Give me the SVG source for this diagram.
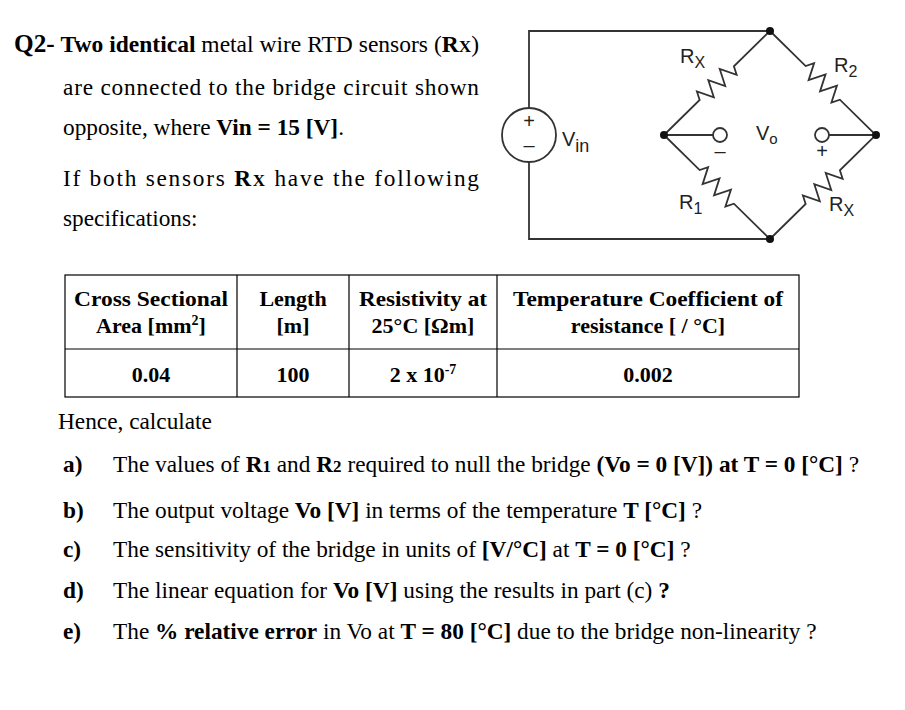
<svg xmlns="http://www.w3.org/2000/svg" width="905" height="710" viewBox="0 0 905 710">
<style>
.t{font-family:"Liberation Serif",serif;font-size:23.3px;fill:#000}
.b{font-weight:bold}
.c{font-family:"Liberation Sans",Arial,sans-serif;font-size:20px;fill:#222}
.w{fill:none;stroke:#333;stroke-width:1.8}
.th{font-family:"Liberation Serif",serif;font-size:22px;font-weight:bold;text-anchor:middle}
</style>
<defs>
<path id="res" class="w" d="M0,0 H50 l4,-8 l8,16 l8,-16 l8,16 l8,-16 l8,16 l4,-8 H148.5"/>
</defs>
<rect width="905" height="710" fill="#fff"/>
<g id="intro">
<text class="t" x="14" y="52" textLength="465" lengthAdjust="spacingAndGlyphs"><tspan class="b" font-size="25">Q2-</tspan> <tspan class="b">Two identical</tspan> metal wire RTD sensors (<tspan class="b">R<tspan font-size="17">X</tspan></tspan>)</text>
<text class="t" x="63" y="95" textLength="416" lengthAdjust="spacing">are connected to the bridge circuit shown</text>
<text class="t" x="63" y="135">opposite, where <tspan class="b">Vin = 15 [V]</tspan>.</text>
<text class="t" x="63" y="186" textLength="416" lengthAdjust="spacing">If both sensors <tspan class="b">R<tspan font-size="17">X</tspan></tspan> have the following</text>
<text class="t" x="63" y="226">specifications:</text>
</g>
<g id="circuit">
<path class="w" d="M529,108 V31 H770 M529,162 V239 H770"/>
<circle cx="529" cy="135" r="27" class="w"/>
<text class="c" x="529" y="128" text-anchor="middle" font-size="16">+</text>
<text class="c" x="529" y="152" text-anchor="middle" font-size="16">–</text>
<text class="c" x="562" y="146" font-size="22">V<tspan font-size="18" dy="6">in</tspan></text>
<use href="#res" transform="translate(664,135) rotate(-44.5)"/>
<use href="#res" transform="translate(770,31) rotate(44.5)"/>
<use href="#res" transform="translate(664,135) rotate(44.5)"/>
<use href="#res" transform="translate(770,239) rotate(-44.5)"/>
<path class="w" d="M664,135 H713 M829,135 H876"/>
<circle cx="720" cy="135" r="7" class="w"/>
<circle cx="822" cy="135" r="7" class="w"/>
<text class="c" x="720" y="158" text-anchor="middle" font-size="16">–</text>
<text class="c" x="822" y="158" text-anchor="middle" font-size="16">+</text>
<text class="c" x="756" y="140">V<tspan font-size="15" dy="4">o</tspan></text>
<circle cx="770" cy="31" r="4" fill="#111"/>
<circle cx="664" cy="135" r="4" fill="#111"/>
<circle cx="876" cy="135" r="4" fill="#111"/>
<circle cx="770" cy="239" r="4" fill="#111"/>
<text class="c" x="680" y="63">R<tspan font-size="16" dy="5">X</tspan></text>
<text class="c" x="834" y="72">R<tspan font-size="16" dy="5">2</tspan></text>
<text class="c" x="679" y="209">R<tspan font-size="16" dy="5">1</tspan></text>
<text class="c" x="829" y="211">R<tspan font-size="16" dy="5">X</tspan></text>
</g>
<g id="table">
<rect x="65" y="275" width="734" height="122" fill="none" stroke="#000" stroke-width="1.2"/>
<path d="M65,349 H799 M237,275 V397 M349,275 V397 M497,275 V397" stroke="#000" stroke-width="1.2"/>
<text class="th" x="151" y="306" textLength="154" lengthAdjust="spacingAndGlyphs">Cross Sectional</text>
<text class="th" x="151" y="333">Area [mm<tspan font-size="14" dy="-8">2</tspan><tspan dy="8">]</tspan></text>
<text class="th" x="293" y="306">Length</text>
<text class="th" x="293" y="333">[m]</text>
<text class="th" x="423" y="306" textLength="128" lengthAdjust="spacingAndGlyphs">Resistivity at</text>
<text class="th" x="423" y="333">25°C [Ωm]</text>
<text class="th" x="648" y="306" textLength="270" lengthAdjust="spacingAndGlyphs">Temperature Coefficient of</text>
<text class="th" x="648" y="333">resistance [ / °C]</text>
<text class="th" x="151" y="382">0.04</text>
<text class="th" x="293" y="382">100</text>
<text class="th" x="423" y="382">2 x 10<tspan font-size="14" dy="-8">-7</tspan></text>
<text class="th" x="648" y="382">0.002</text>
</g>
<g id="questions">
<text class="t" x="58" y="429">Hence, calculate</text>
<text class="t b" x="63" y="472">a)</text>
<text class="t" x="113" y="472">The values of <tspan class="b">R<tspan font-size="17">1</tspan></tspan> and <tspan class="b">R<tspan font-size="17">2</tspan></tspan> required to null the bridge <tspan class="b">(Vo = 0 [V]) at T = 0 [°C]</tspan> ?</text>
<text class="t b" x="63" y="518">b)</text>
<text class="t" x="113" y="518">The output voltage <tspan class="b">Vo [V]</tspan> in terms of the temperature <tspan class="b">T [°C]</tspan> ?</text>
<text class="t b" x="63" y="557">c)</text>
<text class="t" x="113" y="557">The sensitivity of the bridge in units of <tspan class="b">[V/°C]</tspan> at <tspan class="b">T = 0 [°C]</tspan> ?</text>
<text class="t b" x="63" y="598">d)</text>
<text class="t" x="113" y="598">The linear equation for <tspan class="b">Vo [V]</tspan> using the results in part (c) <tspan class="b">?</tspan></text>
<text class="t b" x="63" y="639">e)</text>
<text class="t" x="113" y="639">The <tspan class="b">% relative error</tspan> in Vo at <tspan class="b">T = 80 [°C]</tspan> due to the bridge non-linearity ?</text>
</g>
</svg>
